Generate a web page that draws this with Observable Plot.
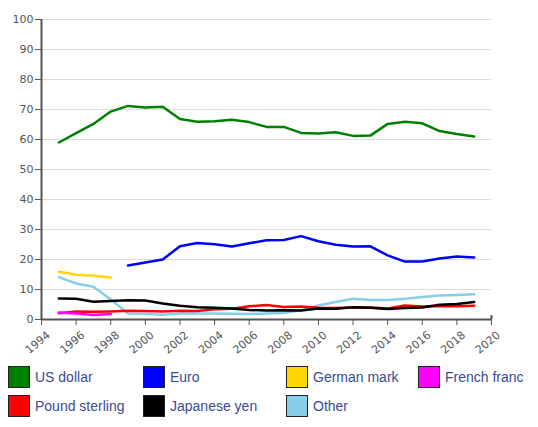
<!DOCTYPE html>
<html>
<head>
<meta charset="utf-8">
<script src="https://cdn.jsdelivr.net/npm/d3@7"></script>
<script src="https://cdn.jsdelivr.net/npm/@observablehq/plot@0.6"></script>
<style>
  html, body { margin: 0; padding: 0; background: #fff; }
  #chart svg { display: block; }
  .legend { position: relative; width: 538px; height: 67px; font-family: "Liberation Sans", Arial, sans-serif; font-size: 14px; color: #3a4a94; }
  .item { position: absolute; display: flex; align-items: center; }
  .sw { width: 20px; height: 20px; border: 1px solid #222; margin-right: 5px; box-sizing: content-box; }
</style>
</head>
<body>
<div id="chart"></div>
<div class="legend" id="legend"></div>
<script>
const years = [1995,1996,1997,1998,1999,2000,2001,2002,2003,2004,2005,2006,2007,2008,2009,2010,2011,2012,2013,2014,2015,2016,2017,2018,2019];
const usDollar = [59.0,62.1,65.2,69.3,71.2,70.7,70.9,66.8,65.9,66.1,66.6,65.8,64.2,64.2,62.2,62.0,62.4,61.2,61.3,65.2,65.9,65.4,62.8,61.8,61.0];
const euro = [null,null,null,null,18.0,19.0,20.0,24.4,25.5,25.1,24.3,25.4,26.4,26.5,27.8,26.1,24.9,24.3,24.4,21.4,19.3,19.3,20.3,21.0,20.7];
const germanMark = [15.9,14.9,14.6,14.0,null,null,null,null,null,null,null,null,null,null,null,null,null,null,null,null,null,null,null,null,null];
const frenchFranc = [2.3,2.0,1.5,1.8,null,null,null,null,null,null,null,null,null,null,null,null,null,null,null,null,null,null,null,null,null];
const poundSterling = [2.1,2.7,2.6,2.7,2.9,2.8,2.7,2.9,2.8,3.4,3.6,4.4,4.8,4.2,4.3,3.9,3.8,4.0,4.0,3.7,4.7,4.3,4.5,4.4,4.6];
const japaneseYen = [7.0,6.9,5.9,6.2,6.4,6.3,5.3,4.6,4.1,3.9,3.7,3.2,3.0,3.1,3.0,3.7,3.6,4.1,3.9,3.5,3.8,4.0,4.9,5.2,5.8];
const other = [14.1,12.0,10.9,6.7,2.0,1.9,1.6,2.0,2.0,2.0,1.9,1.8,2.0,2.2,3.1,4.7,5.8,6.9,6.5,6.5,6.9,7.5,8.0,8.2,8.4];
const seriesNames = ["US dollar","Euro","German mark","French franc","Pound sterling","Japanese yen","Other"];
const seriesValues = [usDollar, euro, germanMark, frenchFranc, poundSterling, japaneseYen, other];
const seriesColors = ["#008000","#0000ff","#ffd700","#ff00ff","#ff0000","#000000","#87ceeb"];
const drawOrder = [6,4,5,3,2,1,0];
const xTicks = [1994,1996,1998,2000,2002,2004,2006,2008,2010,2012,2014,2016,2018,2020];
const yTicks = [0,10,20,30,40,50,60,70,80,90,100];

const rows = [];
for (const i of drawOrder) {
  years.forEach((y, j) => rows.push({series: seriesNames[i], year: y, value: seriesValues[i][j]}));
}

const plot = Plot.plot({
  width: 538,
  height: 360,
  marginLeft: 41,
  marginRight: 47,
  marginTop: 19,
  marginBottom: 41,
  style: {fontFamily: "DejaVu Sans, sans-serif", fontSize: "11px", color: "#555", background: "#fff"},
  x: {domain: [1994, 2020], label: null},
  y: {domain: [0, 100], label: null},
  color: {domain: seriesNames, range: seriesColors},
  marks: [
    Plot.gridY(yTicks, {stroke: "#ddd", strokeOpacity: 1}),
    Plot.line(rows, {x: "year", y: "value", z: "series", stroke: "series", strokeWidth: 2.5, defined: d => d.value != null}),
    Plot.axisY(yTicks, {tickSize: 6, tickPadding: 2, stroke: "#555", fill: "#555", label: null}),
    Plot.axisX(xTicks, {tickSize: 6, text: null, stroke: "#555", label: null}),
    Plot.axisX(xTicks, {tickSize: 0, tickRotate: -40, tickPadding: 8, dx: 7, dy: 6, tickFormat: d => String(d), fill: "#555", label: null}),
    Plot.ruleX([1994], {stroke: "#555", strokeWidth: 2}),
    Plot.ruleY([0], {stroke: "#555", strokeWidth: 2}),
    Plot.ruleX([2020], {y1: 0, y2: 1.3, stroke: "#555", strokeWidth: 2})
  ]
});
document.getElementById("chart").appendChild(plot);

const legendPos = [[8,6],[143,6],[286,6],[418,6],[8,35],[143,35],[286,35]];
const legend = document.getElementById("legend");
seriesNames.forEach((name, i) => {
  const it = document.createElement("div");
  it.className = "item";
  it.style.left = legendPos[i][0] + "px";
  it.style.top = legendPos[i][1] + "px";
  const sw = document.createElement("div");
  sw.className = "sw";
  sw.style.background = seriesColors[i];
  const t = document.createElement("span");
  t.textContent = name;
  it.appendChild(sw); it.appendChild(t);
  legend.appendChild(it);
});
</script>
</body>
</html>
